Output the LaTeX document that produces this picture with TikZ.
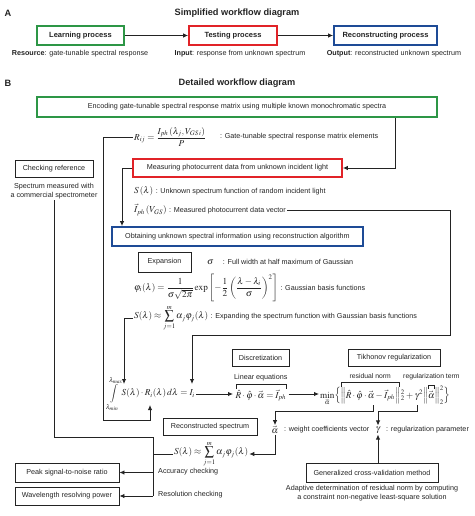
\documentclass[tikz,border=0pt]{standalone}
\usepackage{amsmath,mathtools}
\usepackage{mathptmx}
\usepackage[no-math]{fontspec}
\setmainfont{Liberation Sans}
\usetikzlibrary{arrows.meta}
\definecolor{gboxc}{RGB}{45,150,70}
\definecolor{rboxc}{RGB}{225,35,40}
\definecolor{bboxc}{RGB}{30,75,150}
\definecolor{linec}{RGB}{35,35,35}
\newcommand{\myfs}{\fontsize{7.2}{9}\selectfont}
\newcommand{\myfl}{\fontsize{6.8}{8}\selectfont}
\newcommand{\myfm}{\fontsize{9.2}{11}\selectfont}
\newcommand{\myfb}{\fontsize{7.5}{9}\selectfont\bfseries}
\newcommand{\myft}{\fontsize{9.2}{11}\selectfont\bfseries}
\newcommand{\uplab}[2]{\mbox{\raisebox{#1}{#2}}}
\tikzset{
  txt/.style={font=\myfs, inner sep=1pt, text=linec},
  fm/.style={font=\myfm, inner sep=1pt, text=linec},
  ttl/.style={font=\myft, inner sep=1pt, text=linec},
  bx/.style={draw=linec, line width=0.9pt, font=\myfs, inner sep=2pt, text=linec},
  gbx/.style={draw=gboxc, line width=1.8pt, font=\myfs, inner sep=2pt, text=linec},
  rbx/.style={draw=rboxc, line width=1.8pt, font=\myfs, inner sep=2pt, text=linec},
  bbx/.style={draw=bboxc, line width=1.8pt, font=\myfs, inner sep=2pt, text=linec},
  ln/.style={draw=linec, line width=0.9pt},
  arr/.style={ln, -{Latex[length=5pt,width=4.5pt]}}
}
\begin{document}
\begin{tikzpicture}[x=1pt,y=-1pt]
\useasboundingbox (0,0) rectangle (474,516);
% ---------- A ----------
\node[ttl] (tA) at (8,13) {A};
\node[ttl] (tsimp) at (237,13) {Simplified workflow diagram};
\node[gbx, font=\myfb, minimum width=87pt, minimum height=19pt] (learn) at (80.5,35.5) {Learning process};
\node[rbx, font=\myfb, minimum width=88pt, minimum height=19pt] (test) at (233,35.5) {Testing process};
\node[bbx, font=\myfb, minimum width=103pt, minimum height=19pt] (recon) at (385.5,35.5) {Reconstructing process};
\node[txt] (lres) at (80,54) {\textbf{Resource}: gate-tunable spectral response};
\node[txt] (linp) at (240,54) {\textbf{Input}: response from unknown spectrum};
\node[txt] (lout) at (394,54) {\textbf{Output}: reconstructed unknown spectrum};
\draw[arr] (learn) -- (test);
\draw[arr] (test) -- (recon);
% ---------- B ----------
\node[ttl] (tB) at (8,83) {B};
\node[ttl] (tdet) at (237,83) {Detailed workflow diagram};
\node[gbx, minimum width=400pt, minimum height=20pt] (enc) at (237,107) {Encoding gate-tunable spectral response matrix using multiple known monochromatic spectra};
\node[fm, anchor=west] (rij) at (133,137) {$R_{ij}=\dfrac{I_{ph}\left(\lambda_j,V_{GS\,i}\right)}{P}$};
\node[txt, anchor=west] (rijd) at (219,137) {: Gate-tunable spectral response matrix elements};
\node[bx, minimum width=78pt, minimum height=17pt] (chk) at (54,168.5) {Checking reference};
\node[txt, align=center] (chkd) at (54,191) {Spectrum measured with\\a commercial spectrometer};
\node[rbx, minimum width=209pt, minimum height=18pt] (meas) at (237.5,168) {Measuring photocurrent data from unknown incident light};
\node[fm, anchor=west] (sl) at (133,191) {$S\left(\lambda\right)$ {\myfs: Unknown spectrum function of random incident light}};
\node[fm, anchor=west] (iph) at (133,210) {$\vec{I}_{ph}\left(V_{GS}\right)$ {\myfs: Measured photocurrent data vector}};
\node[bbx, minimum width=251pt, minimum height=19pt] (obt) at (237.5,236.5) {Obtaining unknown spectral information using reconstruction algorithm};
\node[bx, minimum width=53pt, minimum height=20pt] (expn) at (164.5,262) {Expansion};
\node[fm, anchor=west] (sig) at (206,262) {$\sigma$\quad{\myfs: Full width at half maximum of Gaussian}};
\node[fm, anchor=west] (phi) at (133,288) {$\displaystyle\varphi_i(\lambda)=\frac{1}{\sigma\sqrt{2\pi}}\exp\left[-\frac{1}{2}\left(\frac{\lambda-\lambda_i}{\sigma}\right)^{2}\right]$ {\myfs: Gaussian basis functions}};
\node[fm, anchor=west] (sexp) at (133,318) {$\displaystyle S(\lambda)\approx\sum_{j=1}^{m}\alpha_j\varphi_j(\lambda)$ {\myfs: Expanding the spectrum function with Gaussian basis functions}};
% integral row
\node[fm, anchor=west] (integ) at (106,394) {$\displaystyle\int\limits_{\lambda_{min}}^{\lambda_{max}} S(\lambda)\cdot R_i(\lambda)\,d\lambda=I_i$};
\node[fm, anchor=base west] (lin) at (233,398) {$\overbracket[0.6pt][4pt]{\hat{R}\cdot\hat{\varphi}\cdot\vec{\alpha}=\vec{I}_{ph}}^{\uplab{3pt}{\myfs Linear equations}}$};
\node[fm, anchor=base west] (mn) at (319,398) {$\displaystyle\min_{\vec{\alpha}}\Bigl\{\overbracket[0.6pt][4pt]{\Bigl\|\hat{R}\cdot\hat{\varphi}\cdot\vec{\alpha}-\vec{I}_{ph}\Bigr\|}^{\uplab{2pt}{\myfl residual norm}}{}_2^2+\gamma^2\Bigl\|\overbracket[0.6pt][4pt]{\vec{\alpha}\vphantom{\hat{R}}}^{\mathclap{\uplab{4.5pt}{\myfl regularization term}}}\Bigr\|_2^2\Bigr\}$};
\node[bx, minimum width=57pt, minimum height=17pt] (disc) at (260.5,357.5) {Discretization};
\node[bx, minimum width=92pt, minimum height=17pt] (tikh) at (394,357.5) {Tikhonov regularization};
% lower part
\node[bx, minimum width=94pt, minimum height=17pt] (rec) at (210,426.5) {Reconstructed spectrum};
\node[fm] (al) at (275,430) {$\vec{\alpha}$};
\node[txt, anchor=west] (ald) at (283,430) {: weight coefficients vector};
\node[fm] (ga) at (378,430) {$\gamma$};
\node[txt, anchor=west] (gad) at (385,430) {: regularization parameter};
\node[fm, anchor=west] (srec) at (173,454) {$\displaystyle S(\lambda)\approx\sum_{j=1}^{m}\alpha_j\varphi_j(\lambda)$};
\node[bx, minimum width=104pt, minimum height=19pt] (peak) at (67,472.5) {Peak signal-to-noise ratio};
\node[bx, minimum width=104pt, minimum height=18pt] (wave) at (67,496) {Wavelength resolving power};
\node[txt, anchor=west] (acc) at (157,472) {Accuracy checking};
\node[txt, anchor=west] (resl) at (157,495) {Resolution checking};
\node[bx, minimum width=132pt, minimum height=19pt] (gcv) at (372,472.5) {Generalized cross-validation method};
\node[txt, align=center] (adap) at (372,493) {Adaptive determination of residual norm by computing\\a constraint non-negative least-square solution};
% ---------- connectors ----------
\coordinate (kEnc) at (395,0);
\draw[arr] (enc.south -| kEnc) |- (meas.east);
\coordinate (kRl) at (103,420);
\coordinate (kRt) at (150,405);
\draw[arr] (rij.west) -| (kRl) -| (kRt);
\coordinate (kM) at (122,0);
\draw[arr] (meas.west) -| (obt.north -| kM);
\coordinate (kI1) at (450,335);
\coordinate (kI2) at (192,384);
\draw[arr] (iph.east) -| (kI1) -| (kI2);
\coordinate (kS) at (124,384);
\draw[arr] (sexp.west) -| (kS);
\draw[arr] (integ.east) -- (integ.east -| lin.west);
\draw[arr] (lin.east |- integ.east) -- (integ.east -| mn.west);
\coordinate (kT1) at (373,405);
\coordinate (kT2) at (417,405);
\coordinate (kTy) at (0,411);
\draw[arr] (kT1) -- (kT1 |- kTy) -| (al.north);
\draw[arr] (kT2) -- (kT2 |- kTy) -| (ga.north);
\draw[arr] (gcv.north -| ga) -- (ga.south);
\draw[arr] (al.south) |- (srec.east);
\coordinate (kV) at (153,437);
\draw[ln] (chkd.south) |- (kV) -- (kV |- wave.east);
\draw[ln] (srec.west) -- (srec.west -| kV);
\draw[arr] (kV |- peak.east) -- (peak.east);
\draw[arr] (kV |- wave.east) -- (wave.east);
\end{tikzpicture}
\end{document}
